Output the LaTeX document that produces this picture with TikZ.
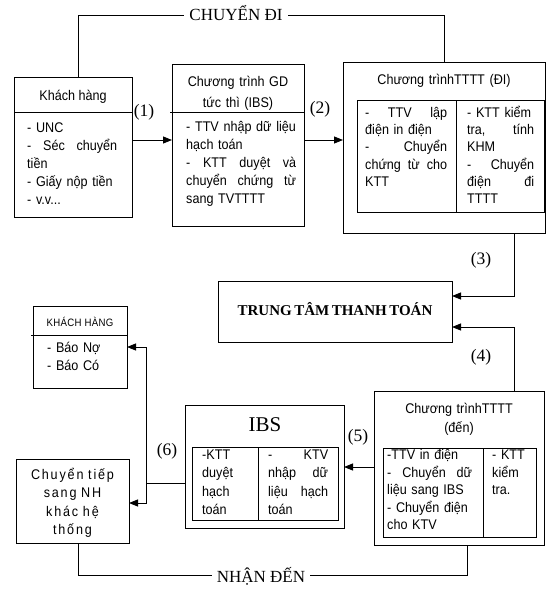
\documentclass[tikz,border=0pt]{standalone}
\usepackage{fontspec}
\usetikzlibrary{arrows.meta}
\setmainfont{Liberation Serif}
\newfontfamily\arialf[FakeStretch=0.9]{Liberation Sans}
\newfontfamily\arialsp[FakeStretch=0.9,LetterSpace=13]{Liberation Sans}
\newfontfamily\arialks[FakeStretch=0.9,LetterSpace=3]{Liberation Sans}
\newcommand\nb[1]{\mbox{#1}}
\begin{document}
\begin{tikzpicture}[x=1pt,y=-1pt,
  box/.style={draw, line width=0.9pt, inner sep=0pt, outer sep=0pt},
  rule/.style={draw, line width=0.9pt},
  conn/.style={draw, line width=0.9pt},
  arr/.style={conn, -{Triangle[length=9pt,width=7pt]}},
  lbl/.style={font=\fontsize{17.5}{20}\selectfont, inner sep=0pt},
  bigt/.style={font=\fontsize{17}{20}\selectfont, fill=white, inner xsep=5pt, inner ysep=1pt, anchor=base},
  bt/.style={font=\arialf\fontsize{14}{18}\selectfont, inner sep=0pt, anchor=base west, align=left},
  ]
\useasboundingbox[fill=white] (0,0) rectangle (553,589);

% Khach hang (top)
\node[box, minimum width=118, minimum height=140] (kh) at (73,147) {};
\draw[rule] (14,112) -- (132,112);
\node[bt, anchor=base] (khT) at (73,100) {Khách hàng};
\node[bt, text width=90] (khB) at (27,132.5) {\nb{- UNC}\\-\hfill Séc\hfill chuyển\\\nb{tiền}\\\nb{- Giấy nộp tiền}\\\nb{- v.v...}};

% Chuong trinh GD
\node[box, minimum width=132, minimum height=162] (gd) at (238,145) {};
\draw[rule] (170,112) -- (305,112);
\node[bt, anchor=base, text width=130, align=center, font=\arialf\fontsize{14}{21}\selectfont] (gdT) at (238,86) {Chương trình GD\\tức thì (IBS)};
\node[bt, text width=110] (gdB) at (186,131.5) {\nb{- TTV nhập dữ liệu}\\\nb{hạch toán}\\-\hfill KTT\hfill duyệt\hfill và\\chuyển\hfill chứng\hfill từ\\\nb{sang TVTTTT}};

% Chuong trinh TTTT (DI)
\node[box, minimum width=202, minimum height=171] (tdi) at (444,147.5) {};
\node[box, minimum width=187, minimum height=112] (tdiIn) at (450.5,156) {};
\draw[rule] (456,100) -- (456,212);
\node[bt, anchor=base, text width=200, align=center] (tdiT) at (444,84) {Chương trìnhTTTT (ĐI)};
\node[bt, text width=82, font=\arialf\fontsize{14}{17.2}\selectfont] (tdiL) at (365,117.5) {-\hfill TTV\hfill lập\\\nb{điện in điện}\\-\hfill Chuyển\\chứng\hfill từ\hfill cho\\\nb{KTT}};
\node[bt, text width=67, font=\arialf\fontsize{14}{17.2}\selectfont] (tdiR) at (467,117.5) {\nb{- KTT kiểm}\\tra,\hfill tính\\\nb{KHM}\\-\hfill Chuyển\\điện\hfill đi\\\nb{TTTT}};

% Trung tam thanh toan
\node[box, minimum width=234, minimum height=61] (tt) at (335,311.5) {};
\node[anchor=base, inner sep=0pt, font=\bfseries\fontsize{15}{18}\selectfont] (ttT) at (335,315) {TRUNG\hspace{2.5pt}TÂM\hspace{2.5pt}THANH\hspace{2.5pt}TOÁN};

% Khach hang (bottom)
\node[box, minimum width=94, minimum height=82] (kh2) at (80,347) {};
\draw[rule] (31,335) -- (127,335);
\node[anchor=base, inner sep=0pt, font=\arialks\fontsize{10.7}{12}\selectfont] (kh2T) at (80,326) {KHÁCH HÀNG};
\node[bt, text width=70] (kh2B) at (47,352.5) {- Báo Nợ\\- Báo Có};

% Chuyen tiep
\node[box, minimum width=113, minimum height=84] (ct) at (72.5,501) {};
\node[bt, anchor=base, text width=110, align=center, font=\arialsp\fontsize{14}{18.3}\selectfont] (ctT) at (72.5,479.5) {Chuyển tiếp\\sang NH\\khác hệ\\thống};

% IBS
\node[box, minimum width=159, minimum height=123] (ibs) at (264.5,466.5) {};
\node[inner sep=0pt, font=\fontsize{21}{24}\selectfont] (ibsT) at (265,425) {IBS};
\node[box, minimum width=146, minimum height=73] (ibsIn) at (265,483.5) {};
\draw[rule] (258,447) -- (258,520);
\node[bt, text width=31, font=\arialf\fontsize{14}{18.3}\selectfont] (ibsL) at (202,459.5) {\nb{-KTT}\\\nb{duyệt}\\\nb{hạch}\\\nb{toán}};
\node[bt, text width=60, font=\arialf\fontsize{14}{18.3}\selectfont] (ibsR) at (268,459.5) {-\hfill KTV\\nhập\hfill dữ\\liệu\hfill hạch\\\nb{toán}};

% Chuong trinh TTTT (den)
\node[box, minimum width=170, minimum height=154] (tden) at (459,468) {};
\node[bt, anchor=base, text width=168, align=center, font=\arialf\fontsize{14}{19}\selectfont] (tdenT) at (459,413) {Chương trìnhTTTT\\(đến)};
\node[box, minimum width=153, minimum height=89] (tdenIn) at (459.5,492.5) {};
\draw[rule] (483,448) -- (483,537);
\node[bt, text width=85, font=\arialf\fontsize{14}{17.5}\selectfont] (tdenL) at (387,459.5) {\nb{-TTV in điện}\\-\hfill Chuyển\hfill dữ\\\nb{liệu sang IBS}\\\nb{- Chuyển điện}\\\nb{cho KTV}};
\node[bt, text width=32, font=\arialf\fontsize{14}{17.5}\selectfont] (tdenR) at (492,459.5) {\nb{- KTT}\\\nb{kiểm}\\\nb{tra.}};

% connectors
\coordinate (r1) at (0,140);
\draw[arr] (kh.east |- r1) -- (gd.west |- r1);
\draw[arr] (gd.east |- r1) -- (tdi.west |- r1);
\node[lbl] (l1) at (144,112) {(1)};
\node[lbl] (l2) at (320,109) {(2)};

\coordinate (cdl) at (78,15);
\coordinate (cdr) at (444,15);
\draw[conn] (kh.north -| cdl) -- (cdl) -- (cdr) -- (tdi.north -| cdr);
\node[bigt] (cdT) at (236,20) {CHUYỂN ĐI};

\coordinate (c3) at (514,296);
\draw[arr] (tdi.south -| c3) |- (tt.east |- c3);
\node[lbl] (l3) at (481,260) {(3)};
\coordinate (c4) at (514,327);
\draw[arr] (tden.north -| c4) |- (tt.east |- c4);
\node[lbl] (l4) at (481,357) {(4)};

\coordinate (c5) at (0,467);
\draw[arr] (tden.west |- c5) -- (ibs.east |- c5);
\node[lbl] (l5) at (358,437) {(5)};

\coordinate (c6) at (146,483);
\coordinate (c6a) at (0,347);
\coordinate (c6b) at (0,503);
\draw[conn] (ibs.west |- c6) -- (c6);
\draw[arr] (c6) |- (kh2.east |- c6a);
\draw[arr] (c6) |- (ct.east |- c6b);
\node[lbl] (l6) at (167,451) {(6)};

\coordinate (ndl) at (78,575);
\coordinate (ndr) at (467,575);
\draw[conn] (ct.south -| ndl) -- (ndl) -- (ndr) -- (tden.south -| ndr);
\node[bigt] (ndT) at (261,582) {NHẬN ĐẾN};
\end{tikzpicture}
\end{document}
